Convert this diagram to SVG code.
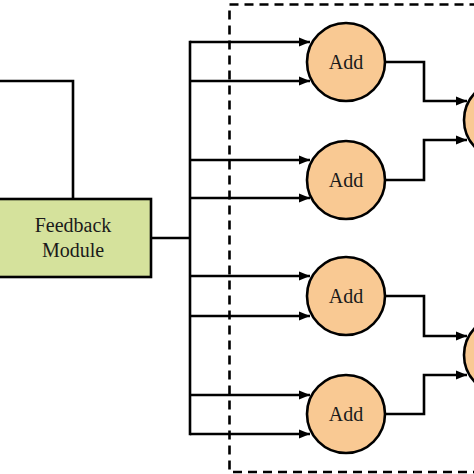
<svg xmlns="http://www.w3.org/2000/svg" width="474" height="474" viewBox="0 0 474 474">
<style>
.ln{fill:none;stroke:#000;stroke-width:2.6;stroke-linejoin:miter}
.ar{fill:none;stroke:#000;stroke-width:2.6;marker-end:url(#ah)}
.add{fill:#f9c993;stroke:#000;stroke-width:2.6}
.fb{fill:#d5e29c;stroke:#000;stroke-width:2.6}
.t{font-family:"Liberation Serif","Times New Roman",serif;font-size:20px;fill:#1a1a1a;text-anchor:middle}
.dash{fill:none;stroke:#000;stroke-width:2.6;stroke-dasharray:9,6}
</style>
<defs>
<marker id="ah" markerUnits="userSpaceOnUse" markerWidth="12" markerHeight="12" viewBox="0 0 12 12" refX="11" refY="6" orient="auto">
<path d="M0,1.5 L11,6 L0,10.5 Z" fill="#000"/>
</marker>
</defs>
<rect class="dash" x="229.5" y="4.5" width="260" height="467.5"/>
<g id="connectors">
<polyline class="ln" points="0,81 73,81 73,199"/>
<line class="ln" x1="151" y1="238" x2="190" y2="238"/>
<line class="ln" x1="190" y1="40.7" x2="190" y2="435.3"/>
<line class="ar" x1="190" y1="42" x2="310" y2="42"/>
<line class="ar" x1="190" y1="81" x2="310" y2="81"/>
<line class="ar" x1="190" y1="160" x2="310" y2="160"/>
<line class="ar" x1="190" y1="198" x2="310" y2="198"/>
<line class="ar" x1="190" y1="276" x2="310" y2="276"/>
<line class="ar" x1="190" y1="316" x2="310" y2="316"/>
<line class="ar" x1="190" y1="395" x2="310" y2="395"/>
<line class="ar" x1="190" y1="434" x2="310" y2="434"/>
<polyline class="ar" points="385,62 424,62 424,101 467,101"/>
<polyline class="ar" points="385,180 424,180 424,140 467,140"/>
<polyline class="ar" points="385,296 424,296 424,336 467,336"/>
<polyline class="ar" points="385,414 424,414 424,375 467,375"/>
</g>
<g id="feedback">
<rect class="fb" x="-5" y="199" width="156" height="78"/>
<text class="t" x="73" y="232">Feedback</text>
<text class="t" x="73" y="257">Module</text>
</g>
<g id="add1"><circle class="add" cx="346" cy="62" r="39"/><text class="t" x="346" y="69">Add</text></g>
<g id="add2"><circle class="add" cx="346" cy="180" r="39"/><text class="t" x="346" y="187">Add</text></g>
<g id="add3"><circle class="add" cx="346" cy="296" r="39"/><text class="t" x="346" y="303">Add</text></g>
<g id="add4"><circle class="add" cx="346" cy="414" r="39"/><text class="t" x="346" y="421">Add</text></g>
<g id="add5"><circle class="add" cx="503" cy="120" r="39"/></g>
<g id="add6"><circle class="add" cx="503" cy="355" r="39"/></g>
</svg>
